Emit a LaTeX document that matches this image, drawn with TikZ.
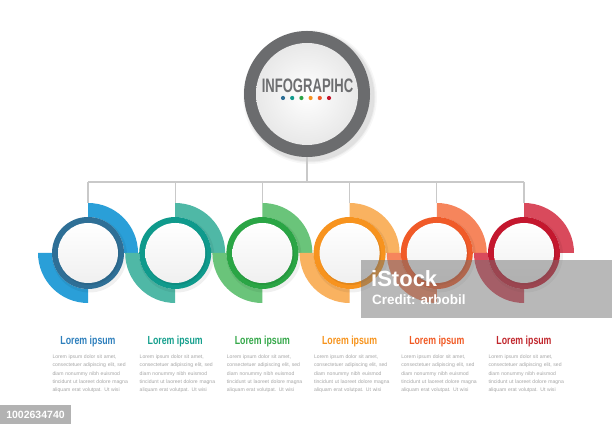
\documentclass[tikz,border=0pt]{standalone}
\usepackage{fontspec}
\usetikzlibrary{calc}
\setmainfont{Liberation Sans}
\newfontfamily\condfont{Liberation Sans}[FakeStretch=0.67]
\newfontfamily\titlefont{Liberation Sans}[FakeStretch=0.75]
\definecolor{linegray}{HTML}{C9C9C9}
\definecolor{hubgray}{HTML}{6B6C6E}
\definecolor{textgray}{HTML}{6D6E70}
\definecolor{bodygray}{HTML}{A6A6A6}
\definecolor{blueD}{HTML}{2E6F96}\definecolor{blueL}{HTML}{2A9FD8}\definecolor{blueT}{HTML}{2F80BD}
\definecolor{tealD}{HTML}{0F9A8C}\definecolor{tealL}{HTML}{4FB8A6}\definecolor{tealT}{HTML}{16A08E}
\definecolor{greenD}{HTML}{2AA545}\definecolor{greenL}{HTML}{6AC47A}\definecolor{greenT}{HTML}{35A84A}
\definecolor{orangeD}{HTML}{F7931E}\definecolor{orangeL}{HTML}{F9B260}\definecolor{orangeT}{HTML}{F7941D}
\definecolor{redorD}{HTML}{F05A28}\definecolor{redorL}{HTML}{F6855C}\definecolor{redorT}{HTML}{F15A24}
\definecolor{redD}{HTML}{C4172E}\definecolor{redL}{HTML}{D94A5C}\definecolor{redT}{HTML}{C1272D}
\newcommand\bodylines{%
\makebox[\linewidth][s]{Lorem ipsum dolor sit amet,}\\
\makebox[\linewidth][s]{consectetuer adipiscing elit, sed}\\
\makebox[\linewidth][s]{diam nonummy nibh euismod}\\
\makebox[\linewidth][s]{tincidunt ut laoreet dolore magna}\\
\makebox[\linewidth][s]{aliquam erat volutpat. Ut wisi}}
\begin{document}
\begin{tikzpicture}[x=1pt,y=1pt,
  conn/.style={draw=linegray,line width=1.3pt},
  titletext/.style={font=\titlefont\bfseries\fontsize{11.7}{12}\selectfont,anchor=base,inner sep=0pt},
  bodytext/.style={font=\fontsize{5.1}{8.1}\selectfont,text=bodygray,text width=71pt,align=left,anchor=north,inner sep=0pt},
  dot/.style={circle,inner sep=0pt,minimum size=4.2pt}]
\useasboundingbox (0,0) rectangle (612,433);
\fill[white] (0,0) rectangle (612,433);
\coordinate (bar) at (0,251);
% hub
\coordinate (hubc) at (307,339);
\foreach \r/\o in {67/0.03,65.5/0.04,64.5/0.05}{\fill[black,opacity=\o] (310,336) circle (\r);}
\node[circle,minimum size=126pt,inner sep=0pt,fill=hubgray] (hub) at (hubc) {};
\shade[inner color=white,outer color=black!9] (hubc) circle (51);
\node[font=\condfont\bfseries\fontsize{19.5}{20}\selectfont,text=textgray,inner sep=0pt,anchor=base] (hubtitle) at (307.5,340) {INFOGRAPIHC};
\foreach \c [count=\k] in {blueD,tealD,greenD,orangeD,redorD,redD}
  {\node[dot,fill=\c] (hd\k) at ({283+9.2*(\k-1)},335) {};}
% steps
\foreach \x/\d/\l/\t [count=\i] in {88/blueD/blueL/blueT,175.2/tealD/tealL/tealT,262.4/greenD/greenL/greenT,349.6/orangeD/orangeL/orangeT,436.8/redorD/redorL/redorT,524/redD/redL/redT}{
  \coordinate (c\i) at (\x,180);
  \coordinate (top\i) at (\x,230);
  \fill[\l] ($(c\i)+(0:50)$) arc[start angle=0,end angle=90,radius=50] -- ($(c\i)+(90:36)$) arc[start angle=90,end angle=0,radius=36] -- cycle;
  \fill[\l] ($(c\i)+(180:50)$) arc[start angle=180,end angle=270,radius=50] -- ($(c\i)+(270:36)$) arc[start angle=270,end angle=180,radius=36] -- cycle;
  \fill[black,opacity=0.06] ($(c\i)+(1.5,-2)$) circle (37.5);
  \node[circle,minimum size=72pt,inner sep=0pt,fill=\d] (s\i) at (c\i) {};
  \fill[black,opacity=0.08] ($(c\i)+(1,-1.5)$) circle (30.5);
  \shade[top color=white,bottom color=black!6] (c\i) circle (30);
  \node[titletext,text=\t] (t\i) at (\x,88) {Lorem ipsum};
  \node[bodytext] (b\i) at (\x,78) {\bodylines};
}
% connectors
\draw[conn] (hub.south) -- (hub.south |- bar);
\draw[conn] (top1 |- bar) -- (top6 |- bar);
\foreach \i in {1,...,6}{\draw[conn] (top\i |- bar) -- (top\i);}
% watermark
\fill[black!55,opacity=0.5] (361,115) rectangle (612,173);
\node[font=\bfseries\fontsize{22}{22}\selectfont,text=white,anchor=base west,inner sep=0pt] (ws) at (371,146) {iStock};
\node[font=\bfseries\fontsize{13.5}{14}\selectfont,text=white,anchor=base west,inner sep=0pt] (wc) at (372,128) {Credit: arbobil};
\fill[black!30] (0,9) rectangle (71,28);
\node[font=\bfseries\fontsize{10.5}{11}\selectfont,text=white,anchor=center,inner sep=0pt] (wid) at (35.5,18.5) {1002634740};
\end{tikzpicture}
\end{document}
